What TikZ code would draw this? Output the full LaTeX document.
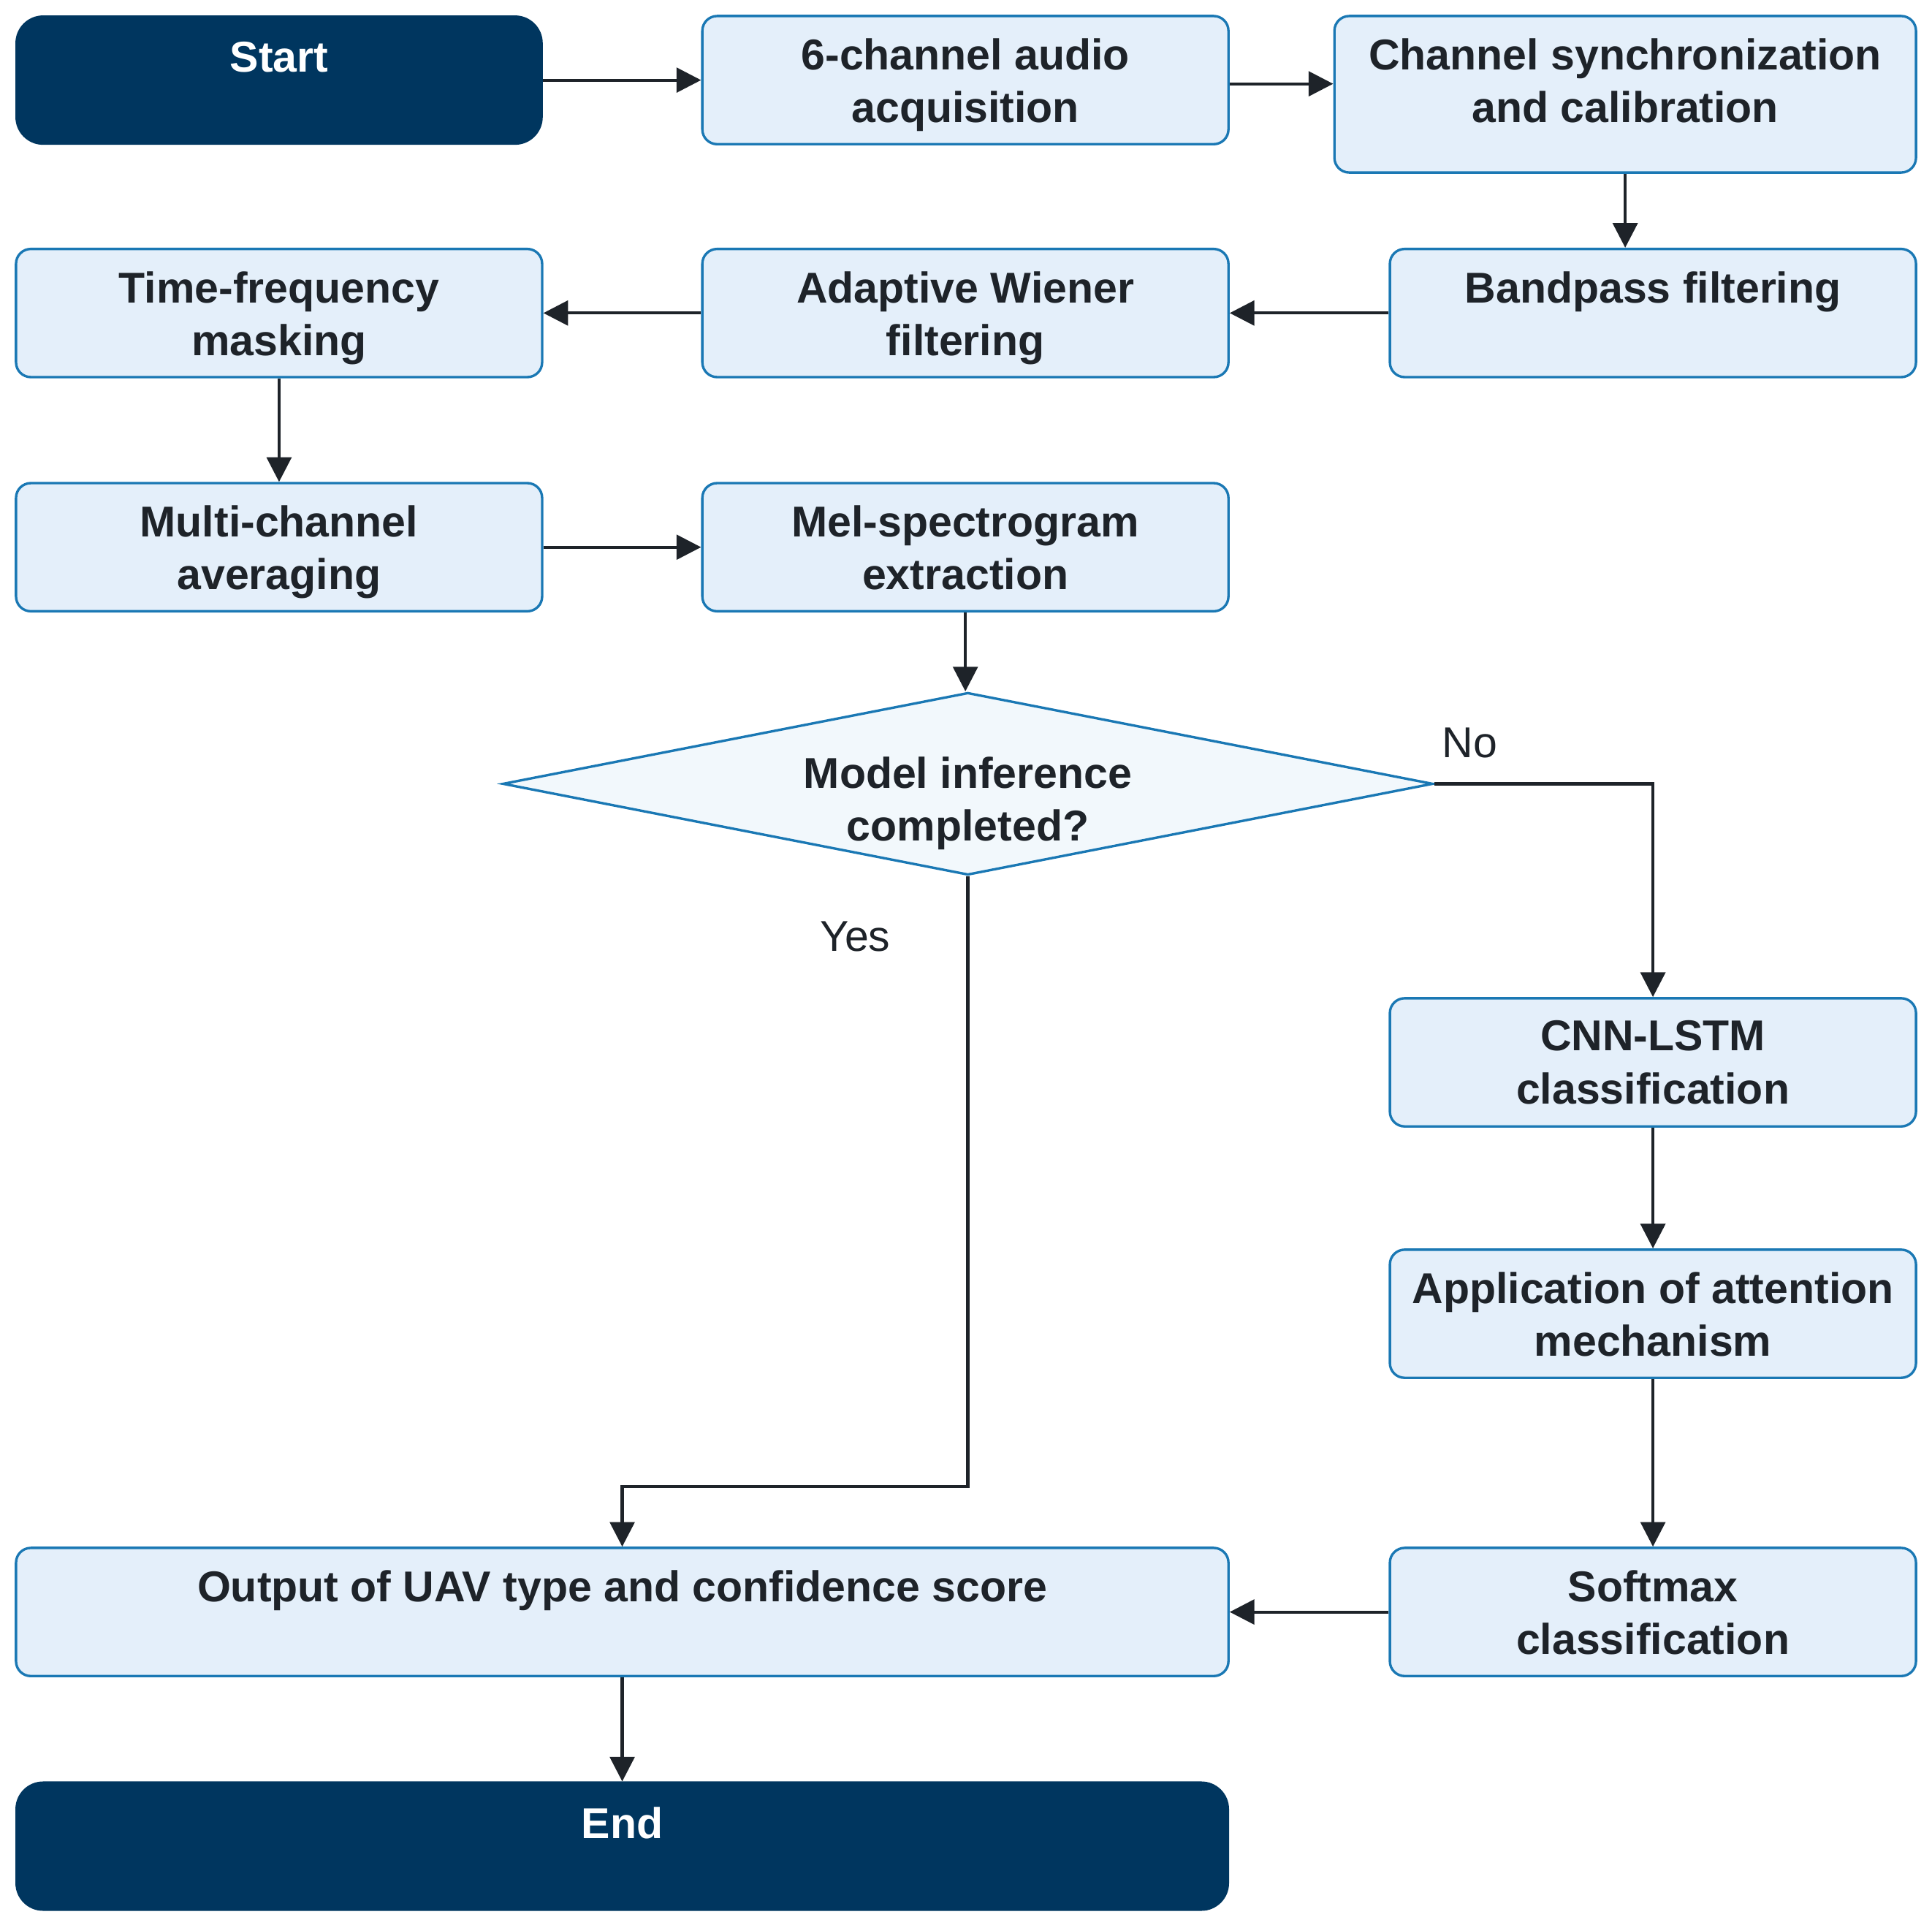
\documentclass[tikz,border=0pt]{standalone}
\usepackage{fontspec}
\setmainfont{Liberation Sans}
\usetikzlibrary{shapes.geometric,arrows.meta}
\definecolor{navy}{HTML}{00365F}
\definecolor{boxfill}{HTML}{E4EFFA}
\definecolor{boxline}{HTML}{1A78B4}
\definecolor{diafill}{HTML}{F2F8FC}
\definecolor{arrowc}{HTML}{1E2329}
\begin{document}
\begin{tikzpicture}[x=1pt,y=-1pt,
 box/.style={draw=boxline, fill=boxfill, line width=2pt, rounded corners=12pt, inner sep=0pt},
 stdbox/.style={box, minimum width=427pt, minimum height=104pt},
 term/.style={fill=navy, draw=navy, line width=1pt, rounded corners=22pt, inner sep=0pt},
 txt/.style={anchor=north, inner sep=0pt, align=center, font=\fontsize{35}{43}\selectfont\bfseries, text=arrowc},
 ttxt/.style={txt, text=white},
 lbl/.style={inner sep=0pt, font=\fontsize{35}{43}\selectfont, text=arrowc},
 conn/.style={draw=arrowc, line width=2.5pt, -{Triangle[length=20pt,width=20pt]}},
]
\useasboundingbox (0,0) rectangle (1568,1564);
% terminals
\node[term, minimum width=427pt, minimum height=104pt] (start) at (226.5,65) {};
\node[ttxt] (tstart) at ([yshift=-21pt]start.north) {Start};
\node[term, minimum width=984pt, minimum height=104pt] (end) at (505,1498) {};
\node[ttxt] (tend) at ([yshift=-21pt]end.north) {End};
% process boxes
\node[stdbox] (acq) at (783.5,65) {};
\node[txt] (tacq) at ([yshift=-19pt]acq.north) {6-channel audio\\acquisition};
\node[box, minimum width=472pt, minimum height=127pt] (sync) at (1319,76.5) {};
\node[txt] (tsync) at ([yshift=-19pt]sync.north) {Channel synchronization\\and calibration};
\node[stdbox] (band) at (1341.5,254) {};
\node[txt] (tband) at ([yshift=-19pt]band.north) {Bandpass filtering};
\node[stdbox] (wien) at (783.5,254) {};
\node[txt] (twien) at ([yshift=-19pt]wien.north) {Adaptive Wiener\\filtering};
\node[stdbox] (mask) at (226.5,254) {};
\node[txt] (tmask) at ([yshift=-19pt]mask.north) {Time-frequency\\masking};
\node[stdbox] (avg) at (226.5,444) {};
\node[txt] (tavg) at ([yshift=-19pt]avg.north) {Multi-channel\\averaging};
\node[stdbox] (mel) at (783.5,444) {};
\node[txt] (tmel) at ([yshift=-19pt]mel.north) {Mel-spectrogram\\extraction};
\node[diamond, draw=boxline, fill=diafill, line width=2pt, inner sep=0pt, aspect=5.1, minimum width=755pt, minimum height=148pt] (dia) at (785.5,636) {};
\node[txt] (tdia) at ([yshift=22pt]dia.center) {Model inference\\completed?};
\node[stdbox] (cnn) at (1341.5,862) {};
\node[txt] (tcnn) at ([yshift=-19pt]cnn.north) {CNN-LSTM\\classification};
\node[stdbox] (att) at (1341.5,1066) {};
\node[txt] (tatt) at ([yshift=-19pt]att.north) {Application of attention\\mechanism};
\node[stdbox] (soft) at (1341.5,1308) {};
\node[txt] (tsoft) at ([yshift=-19pt]soft.north) {Softmax\\classification};
\node[box, minimum width=984pt, minimum height=104pt] (out) at (505,1308) {};
\node[txt] (tout) at ([yshift=-19pt]out.north) {Output of UAV type and confidence score};
% labels
\node[lbl] (no) at (1193,603) {No};
\node[lbl] (yes) at (694,760) {Yes};
\coordinate (ybend) at (0,1206);
% connectors
\draw[conn] (start.east) -- (acq.west);
\draw[conn] ([yshift=-3pt]acq.east) -- ([yshift=-3pt]acq.east -| sync.west);
\draw[conn] (sync.south) -- (sync.south |- band.north);
\draw[conn] (band.west) -- (wien.east);
\draw[conn] (wien.west) -- (mask.east);
\draw[conn] (mask.south) -- (avg.north);
\draw[conn] (avg.east) -- (mel.west);
\draw[conn] (mel.south) -- (mel.south |- dia.north);
\draw[conn] (dia.east) -| (cnn.north);
\draw[conn] (dia.south) -- (dia.south |- ybend) -| (out.north);
\draw[conn] (cnn.south) -- (att.north);
\draw[conn] (att.south) -- (soft.north);
\draw[conn] (soft.west) -- (out.east);
\draw[conn] (out.south) -- (end.north);
\end{tikzpicture}
\end{document}
